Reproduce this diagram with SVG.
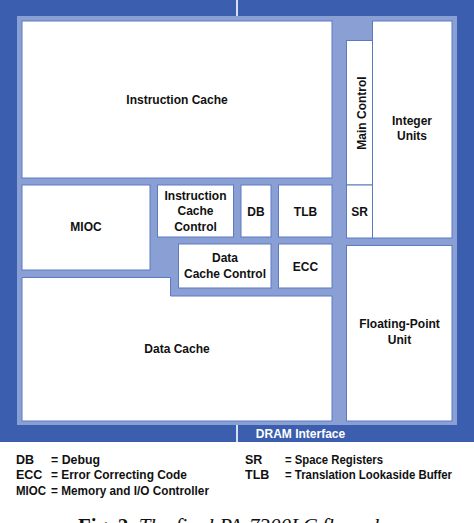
<svg xmlns="http://www.w3.org/2000/svg" width="474" height="523" viewBox="0 0 474 523">
<style>
.blk{fill:#ffffff;stroke:#5d79c2;stroke-width:1}
.lbl{font-family:"Liberation Sans",Arial,sans-serif;font-weight:bold;font-size:12px;fill:#111;text-anchor:middle}
.leg{font-family:"Liberation Sans",Arial,sans-serif;font-weight:bold;font-size:12.5px;fill:#111}
.wl{stroke:#ffffff;stroke-width:1.6}
</style>
<rect x="0" y="0" width="474" height="523" fill="#ffffff"/>
<g id="chip">
<rect x="0" y="0" width="474" height="442" fill="#3b5eae"/>
<rect x="17" y="16" width="440" height="409" fill="#8aa0d5"/>
<line class="wl" x1="237" y1="0" x2="237" y2="16"/>
<line class="wl" x1="237" y1="425" x2="237" y2="442"/>
</g>
<g id="instruction-cache"><rect class="blk" x="22" y="21" width="310" height="157"/><text class="lbl" x="177" y="103.5">Instruction Cache</text></g>
<g id="main-control"><rect class="blk" x="346.5" y="40.5" width="26" height="144.5"/><text class="lbl" transform="translate(366,113) rotate(-90)">Main Control</text></g>
<g id="integer-units"><rect class="blk" x="372.5" y="21" width="79.5" height="217"/><text class="lbl" x="412" y="124.5">Integer</text><text class="lbl" x="412" y="140">Units</text></g>
<g id="sr"><rect class="blk" x="346.5" y="185" width="26" height="53"/><text class="lbl" x="359.5" y="216">SR</text></g>
<g id="mioc"><rect class="blk" x="22" y="185" width="128" height="85"/><text class="lbl" x="86" y="231">MIOC</text></g>
<g id="instruction-cache-control"><rect class="blk" x="157.5" y="185" width="76" height="52"/><text class="lbl" x="195.5" y="199.5">Instruction</text><text class="lbl" x="195.5" y="215.2">Cache</text><text class="lbl" x="195.5" y="231">Control</text></g>
<g id="db"><rect class="blk" x="241" y="185" width="30" height="52"/><text class="lbl" x="256" y="216">DB</text></g>
<g id="tlb"><rect class="blk" x="278.5" y="185" width="53.5" height="52"/><text class="lbl" x="305.5" y="216">TLB</text></g>
<g id="data-cache-control"><rect class="blk" x="178.5" y="244" width="92.5" height="44"/><text class="lbl" x="225" y="262">Data</text><text class="lbl" x="225" y="278">Cache Control</text></g>
<g id="ecc"><rect class="blk" x="278.5" y="244" width="53.5" height="44"/><text class="lbl" x="305.5" y="271">ECC</text></g>
<g id="data-cache"><path class="blk" d="M22 277.5 H170.5 V296 H332 V421 H22 Z"/><text class="lbl" x="177" y="353">Data Cache</text></g>
<g id="floating-point-unit"><rect class="blk" x="346.5" y="245.5" width="105.5" height="175.5"/><text class="lbl" x="399.5" y="328">Floating-Point</text><text class="lbl" x="399.5" y="344">Unit</text></g>
<g id="dram-interface"><text class="lbl" x="300.5" y="438" style="fill:#ffffff">DRAM Interface</text></g>
<g id="legend">
<text class="leg" x="16" y="463.5">DB</text><text class="leg" x="51" y="463.5" textLength="49" lengthAdjust="spacingAndGlyphs">= Debug</text>
<text class="leg" x="16" y="479">ECC</text><text class="leg" x="51" y="479" textLength="136" lengthAdjust="spacingAndGlyphs">= Error Correcting Code</text>
<text class="leg" x="16" y="494.5" textLength="30" lengthAdjust="spacingAndGlyphs">MIOC</text><text class="leg" x="51" y="494.5" textLength="158" lengthAdjust="spacingAndGlyphs">= Memory and I/O Controller</text>
<text class="leg" x="245" y="463.5">SR</text><text class="leg" x="285" y="463.5" textLength="98" lengthAdjust="spacingAndGlyphs">= Space Registers</text>
<text class="leg" x="245" y="479">TLB</text><text class="leg" x="285" y="479" textLength="167" lengthAdjust="spacingAndGlyphs">= Translation Lookaside Buffer</text>
</g>
<g id="caption"><text x="78" y="533" style="font-family:'Liberation Serif','Times New Roman',serif;font-size:21px;fill:#111"><tspan font-weight="bold">Fig. 2.</tspan><tspan font-style="italic"> The final PA-7300LC floorplan.</tspan></text></g>
</svg>
